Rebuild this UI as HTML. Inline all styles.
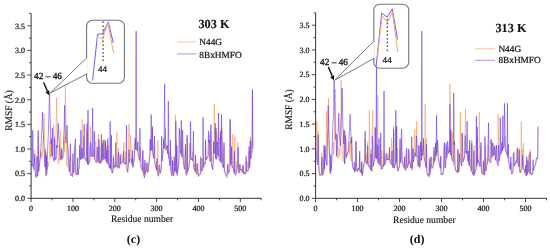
<!DOCTYPE html>
<html><head><meta charset="utf-8"><title>RMSF</title>
<style>
html,body{margin:0;padding:0;background:#fff;width:550px;height:248px;overflow:hidden}
svg{display:block}
text{font-family:"Liberation Serif","Times New Roman",serif;fill:#111;stroke:#111;stroke-width:0.22px;text-rendering:geometricPrecision}
.tk{font-size:8px}
.ttl{font-size:12.3px;font-weight:bold;stroke-width:0.1px}
.lg{font-size:9.3px}
.an{font-size:9.3px;stroke-width:0.3px}
.ax{font-size:10px;stroke-width:0.12px}
.pl{font-size:12px;font-weight:bold;stroke-width:0px}
.n44{font-family:"Liberation Sans",Arial,sans-serif;font-size:8.3px;stroke-width:0.2px}
</style></head><body>
<svg width="550" height="248" viewBox="0 0 550 248">
<rect width="550" height="248" fill="#fff"/>
<polyline points="31.52,163.65 31.94,165.27 32.36,164.35 32.77,164.84 33.19,167.41 33.61,165.89 34.03,150.37 34.45,162.13 34.87,158.28 35.28,173.10 35.70,175.82 36.12,174.92 36.54,175.75 36.96,177.32 37.38,174.91 37.79,175.39 38.21,136.28 38.63,171.95 39.05,166.99 39.47,164.97 39.89,160.27 40.30,150.52 40.72,158.51 41.14,151.86 41.56,156.24 41.98,155.82 42.40,156.84 42.82,140.06 43.23,140.26 43.65,140.57 44.07,114.00 44.49,133.24 44.91,149.75 45.33,167.17 45.74,156.30 46.16,174.87 46.58,152.51 47.00,173.88 47.42,173.24 47.84,161.62 48.25,166.43 48.67,164.04 49.09,161.87 49.51,160.00 49.93,141.54 50.35,157.62 50.76,136.98 51.18,156.45 51.60,139.77 52.02,155.58 52.44,155.78 52.86,155.23 53.28,142.12 53.69,124.84 54.11,140.88 54.53,135.75 54.95,159.84 55.37,157.37 55.79,140.41 56.20,124.52 56.62,97.73 57.04,117.91 57.46,140.48 57.88,155.71 58.30,163.28 58.71,164.25 59.13,145.62 59.55,153.83 59.97,160.35 60.39,130.27 60.81,159.30 61.22,158.80 61.64,150.68 62.06,159.98 62.48,156.95 62.90,158.54 63.32,157.01 63.74,156.24 64.15,136.43 64.57,152.23 64.99,118.14 65.41,86.39 65.83,117.70 66.25,140.61 66.66,163.31 67.08,166.42 67.50,140.40 67.92,153.57 68.34,168.56 68.76,170.75 69.17,170.94 69.59,171.90 70.01,157.95 70.43,174.59 70.85,173.87 71.27,174.13 71.68,173.50 72.10,174.94 72.52,174.83 72.94,160.92 73.36,171.41 73.78,171.99 74.20,149.11 74.61,147.84 75.03,145.52 75.45,171.04 75.87,173.86 76.29,174.52 76.71,174.49 77.12,174.01 77.54,167.07 77.96,175.55 78.38,173.31 78.80,170.43 79.22,164.61 79.63,150.10 80.05,159.43 80.47,159.54 80.89,159.36 81.31,159.30 81.73,158.09 82.14,119.42 82.56,156.59 82.98,158.35 83.40,157.15 83.82,136.39 84.24,156.58 84.66,156.78 85.07,157.65 85.49,159.71 85.91,160.36 86.33,162.46 86.75,136.22 87.17,130.51 87.58,164.93 88.00,162.83 88.42,162.26 88.84,161.30 89.26,162.17 89.68,146.75 90.09,156.84 90.51,126.82 90.93,142.98 91.35,157.09 91.77,155.87 92.19,155.31 92.60,156.34 93.02,156.28 93.44,149.84 93.86,150.72 94.28,152.07 94.70,159.89 95.12,158.05 95.53,141.39 95.95,141.10 96.37,162.34 96.79,162.55 97.21,149.83 97.63,153.07 98.04,162.40 98.46,134.21 98.88,142.60 99.30,163.52 99.72,146.93 100.14,162.67 100.55,163.75 100.97,160.52 101.39,160.54 101.81,161.73 102.23,140.05 102.65,158.17 103.06,158.18 103.48,159.27 103.90,140.93 104.32,156.90 104.74,157.09 105.16,159.26 105.58,142.17 105.99,160.51 106.41,162.47 106.83,145.97 107.25,161.98 107.67,163.30 108.09,145.77 108.50,156.29 108.92,167.11 109.34,164.69 109.76,167.40 110.18,167.29 110.60,168.43 111.01,168.58 111.43,136.96 111.85,171.19 112.27,173.14 112.69,172.34 113.11,171.82 113.52,154.84 113.94,167.49 114.36,167.96 114.78,167.55 115.20,164.27 115.62,163.30 116.04,166.15 116.45,165.29 116.87,132.24 117.29,165.88 117.71,167.11 118.13,153.34 118.55,148.33 118.96,168.73 119.38,165.54 119.80,164.23 120.22,156.88 120.64,164.60 121.06,163.20 121.47,163.08 121.89,153.84 122.31,159.86 122.73,161.91 123.15,162.21 123.57,148.60 123.98,142.10 124.40,163.61 124.82,163.49 125.24,163.76 125.66,163.33 126.08,152.07 126.50,165.61 126.91,169.84 127.33,171.83 127.75,170.08 128.17,167.19 128.59,161.00 129.01,124.35 129.42,160.54 129.84,159.91 130.26,158.71 130.68,135.20 131.10,159.10 131.52,160.50 131.93,162.19 132.35,155.22 132.77,166.07 133.19,157.47 133.61,162.16 134.03,160.94 134.44,154.53 134.86,142.77 135.28,140.25 135.70,149.26 136.12,148.05 136.54,150.49 136.96,149.00 137.37,148.13 137.79,140.97 138.21,154.49 138.63,156.97 139.05,158.92 139.47,161.60 139.88,160.90 140.30,147.71 140.72,164.38 141.14,168.21 141.56,169.32 141.98,169.80 142.39,172.52 142.81,151.57 143.23,167.54 143.65,173.22 144.07,165.40 144.49,175.81 144.90,163.25 145.32,175.26 145.74,173.06 146.16,170.74 146.58,169.86 147.00,163.53 147.42,171.64 147.83,172.87 148.25,172.16 148.67,166.79 149.09,162.82 149.51,157.79 149.93,139.14 150.34,140.72 150.76,149.91 151.18,150.09 151.60,147.36 152.02,149.56 152.44,125.69 152.85,152.02 153.27,156.25 153.69,157.19 154.11,145.39 154.53,162.30 154.95,163.50 155.36,165.19 155.78,167.70 156.20,168.72 156.62,161.77 157.04,169.46 157.46,171.23 157.88,140.13 158.29,174.37 158.71,174.61 159.13,167.88 159.55,168.74 159.97,173.55 160.39,173.18 160.80,171.78 161.22,168.13 161.64,163.36 162.06,160.64 162.48,155.05 162.90,153.41 163.31,149.38 163.73,142.19 164.15,148.94 164.57,147.76 164.99,131.75 165.41,127.58 165.82,148.17 166.24,148.71 166.66,148.06 167.08,145.25 167.50,150.65 167.92,154.02 168.34,150.53 168.75,158.55 169.17,152.82 169.59,161.74 170.01,166.02 170.43,150.08 170.85,169.20 171.26,171.13 171.68,155.97 172.10,173.95 172.52,160.11 172.94,175.58 173.36,176.21 173.77,174.73 174.19,161.26 174.61,172.94 175.03,170.22 175.45,114.98 175.87,170.90 176.28,140.41 176.70,146.39 177.12,146.13 177.54,173.15 177.96,167.94 178.38,166.55 178.80,163.61 179.21,158.19 179.63,130.06 180.05,141.69 180.47,154.79 180.89,152.05 181.31,152.68 181.72,141.69 182.14,157.95 182.56,147.67 182.98,154.13 183.40,162.09 183.82,164.33 184.23,167.14 184.65,169.24 185.07,163.21 185.49,149.25 185.91,172.28 186.33,174.57 186.74,173.43 187.16,138.71 187.58,172.81 188.00,168.98 188.42,169.80 188.84,165.17 189.26,162.38 189.67,142.80 190.09,159.61 190.51,143.04 190.93,157.97 191.35,159.63 191.77,158.84 192.18,161.09 192.60,160.77 193.02,151.65 193.44,164.40 193.86,165.79 194.28,169.90 194.69,164.45 195.11,169.68 195.53,155.82 195.95,171.53 196.37,173.57 196.79,174.80 197.20,164.57 197.62,163.79 198.04,173.56 198.46,176.34 198.88,174.33 199.30,173.73 199.72,173.13 200.13,172.88 200.55,156.08 200.97,165.17 201.39,171.66 201.81,170.82 202.23,168.01 202.64,166.92 203.06,158.46 203.48,168.35 203.90,165.65 204.32,163.74 204.74,162.55 205.15,163.70 205.57,141.26 205.99,159.60 206.41,158.05 206.83,157.07 207.25,156.81 207.66,156.65 208.08,155.96 208.50,154.16 208.92,139.83 209.34,143.59 209.76,134.55 210.18,161.07 210.59,151.76 211.01,131.54 211.43,153.99 211.85,167.43 212.27,168.30 212.69,169.64 213.10,161.57 213.52,140.79 213.94,152.76 214.36,104.14 214.78,152.44 215.20,154.78 215.61,157.60 216.03,159.76 216.45,147.03 216.87,132.24 217.29,138.89 217.71,148.69 218.12,153.64 218.54,155.09 218.96,157.00 219.38,137.88 219.80,158.54 220.22,160.61 220.64,134.27 221.05,163.25 221.47,163.15 221.89,127.65 222.31,149.68 222.73,164.65 223.15,167.86 223.56,168.10 223.98,146.51 224.40,168.91 224.82,170.87 225.24,174.29 225.66,175.87 226.07,176.78 226.49,177.22 226.91,177.97 227.33,171.58 227.75,165.65 228.17,172.70 228.58,170.98 229.00,170.36 229.42,147.55 229.84,119.42 230.26,144.67 230.68,164.64 231.10,161.92 231.51,145.43 231.93,165.61 232.35,167.33 232.77,134.21 233.19,166.89 233.61,169.41 234.02,172.63 234.44,148.43 234.86,136.18 235.28,175.11 235.70,174.22 236.12,161.13 236.53,172.15 236.95,170.26 237.37,159.75 237.79,142.10 238.21,150.01 238.63,170.35 239.04,173.21 239.46,170.87 239.88,164.83 240.30,171.12 240.72,170.33 241.14,169.36 241.56,169.75 241.97,169.78 242.39,172.65 242.81,166.12 243.23,167.05 243.65,173.59 244.07,171.48 244.48,174.51 244.90,174.14 245.32,172.51 245.74,173.31 246.16,161.21 246.58,171.40 246.99,170.82 247.41,162.07 247.83,169.13 248.25,169.19 248.67,157.11 249.09,151.13 249.50,167.46 249.92,164.08 250.34,136.74 250.76,158.57 251.18,141.05 251.60,152.52 252.02,150.16 252.43,89.84 252.85,148.88" fill="none" stroke="#f39a58" stroke-width="0.58" stroke-linejoin="miter" stroke-miterlimit="30"/>
<polyline points="31.52,163.77 31.94,165.83 32.36,165.03 32.77,130.27 33.19,167.01 33.61,168.62 34.03,169.61 34.45,161.07 34.87,154.28 35.28,174.74 35.70,176.35 36.12,177.45 36.54,175.77 36.96,156.24 37.38,175.93 37.79,175.59 38.21,130.39 38.63,171.33 39.05,167.86 39.47,164.75 39.89,159.66 40.30,157.97 40.72,153.16 41.14,142.89 41.56,134.87 41.98,128.36 42.40,112.03 42.82,124.93 43.23,132.76 43.65,140.90 44.07,151.25 44.49,159.24 44.91,166.82 45.33,149.53 45.74,172.14 46.16,176.08 46.58,155.56 47.00,169.52 47.42,156.44 47.84,145.21 48.25,136.40 48.67,121.88 49.09,108.87 49.51,93.29 49.93,113.24 50.35,121.31 50.76,141.27 51.18,143.86 51.60,139.15 52.02,156.35 52.44,128.29 52.86,157.64 53.28,159.01 53.69,158.72 54.11,161.51 54.53,138.38 54.95,160.11 55.37,158.03 55.79,159.00 56.20,159.02 56.62,145.08 57.04,147.91 57.46,138.03 57.88,131.47 58.30,123.36 58.71,136.88 59.13,141.30 59.55,148.23 59.97,153.21 60.39,159.61 60.81,160.23 61.22,159.24 61.64,148.64 62.06,158.13 62.48,157.88 62.90,155.15 63.32,145.93 63.74,135.23 64.15,128.73 64.57,105.12 64.99,122.91 65.41,136.21 65.83,143.19 66.25,140.24 66.66,136.72 67.08,125.34 67.50,143.38 67.92,148.79 68.34,152.76 68.76,163.92 69.17,170.08 69.59,171.84 70.01,158.18 70.43,143.58 70.85,175.64 71.27,174.78 71.68,175.48 72.10,175.24 72.52,176.66 72.94,153.70 73.36,173.27 73.78,172.86 74.20,172.48 74.61,149.72 75.03,145.20 75.45,138.65 75.87,174.44 76.29,174.37 76.71,174.88 77.12,174.23 77.54,157.76 77.96,174.53 78.38,172.61 78.80,168.82 79.22,166.10 79.63,144.92 80.05,160.23 80.47,159.33 80.89,130.27 81.31,158.52 81.73,158.94 82.14,147.88 82.56,158.43 82.98,157.55 83.40,157.95 83.82,136.18 84.24,124.35 84.66,157.84 85.07,158.08 85.49,158.97 85.91,160.17 86.33,160.90 86.75,133.01 87.17,123.55 87.58,164.10 88.00,110.05 88.42,164.84 88.84,163.67 89.26,161.96 89.68,160.89 90.09,157.82 90.51,142.37 90.93,144.73 91.35,156.28 91.77,156.25 92.19,154.03 92.60,108.08 93.02,156.72 93.44,155.55 93.86,156.46 94.28,131.25 94.70,159.09 95.12,159.39 95.53,162.01 95.95,162.25 96.37,162.76 96.79,162.56 97.21,146.72 97.63,149.05 98.04,161.94 98.46,161.63 98.88,139.11 99.30,162.96 99.72,162.14 100.14,163.19 100.55,161.57 100.97,162.30 101.39,134.21 101.81,161.44 102.23,143.28 102.65,159.19 103.06,160.14 103.48,158.08 103.90,139.62 104.32,159.05 104.74,159.28 105.16,158.81 105.58,140.62 105.99,160.86 106.41,161.60 106.83,149.88 107.25,163.76 107.67,138.65 108.09,142.65 108.50,164.93 108.92,165.22 109.34,166.77 109.76,167.95 110.18,121.39 110.60,169.35 111.01,144.54 111.43,135.10 111.85,171.57 112.27,173.27 112.69,170.76 113.11,169.52 113.52,157.77 113.94,167.33 114.36,167.37 114.78,165.85 115.20,167.17 115.62,142.66 116.04,166.30 116.45,165.73 116.87,165.55 117.29,168.10 117.71,168.07 118.13,157.37 118.55,152.21 118.96,167.48 119.38,167.43 119.80,166.99 120.22,154.41 120.64,163.57 121.06,162.71 121.47,162.44 121.89,162.72 122.31,162.18 122.73,162.41 123.15,162.28 123.57,151.23 123.98,163.42 124.40,162.68 124.82,163.95 125.24,163.30 125.66,164.47 126.08,155.09 126.50,125.34 126.91,168.85 127.33,169.92 127.75,172.28 128.17,167.30 128.59,157.68 129.01,149.75 129.42,162.65 129.84,161.31 130.26,159.99 130.68,159.38 131.10,159.13 131.52,160.53 131.93,164.25 132.35,150.21 132.77,167.54 133.19,167.14 133.61,163.27 134.03,160.72 134.44,157.15 134.86,141.52 135.28,137.66 135.70,149.59 136.12,31.17 136.54,148.33 136.96,149.05 137.37,150.60 137.79,142.27 138.21,154.63 138.63,157.29 139.05,158.15 139.47,160.15 139.88,128.29 140.30,150.26 140.72,157.15 141.14,167.42 141.56,168.59 141.98,169.99 142.39,170.48 142.81,150.07 143.23,165.23 143.65,175.80 144.07,175.95 144.49,178.06 144.90,159.85 145.32,173.19 145.74,171.66 146.16,171.06 146.58,171.15 147.00,162.46 147.42,171.46 147.83,171.99 148.25,171.14 148.67,165.89 149.09,161.88 149.51,158.91 149.93,155.30 150.34,139.51 150.76,150.81 151.18,114.49 151.60,148.64 152.02,150.51 152.44,127.31 152.85,153.00 153.27,155.38 153.69,158.54 154.11,147.81 154.53,136.18 154.95,162.86 155.36,165.01 155.78,166.45 156.20,167.43 156.62,170.30 157.04,158.49 157.46,172.22 157.88,176.10 158.29,175.96 158.71,176.00 159.13,165.85 159.55,164.70 159.97,172.61 160.39,172.98 160.80,171.21 161.22,170.29 161.64,136.18 162.06,161.10 162.48,158.24 162.90,151.84 163.31,148.23 163.73,138.38 164.15,148.15 164.57,83.92 164.99,128.48 165.41,131.95 165.82,150.20 166.24,149.73 166.66,149.28 167.08,145.49 167.50,152.59 167.92,154.02 168.34,101.18 168.75,158.55 169.17,159.41 169.59,162.68 170.01,165.51 170.43,140.13 170.85,171.36 171.26,173.15 171.68,175.36 172.10,174.36 172.52,160.66 172.94,175.89 173.36,176.03 173.77,173.85 174.19,156.63 174.61,171.57 175.03,169.41 175.45,169.84 175.87,121.39 176.28,173.15 176.70,145.59 177.12,175.55 177.54,171.16 177.96,169.98 178.38,166.14 178.80,161.47 179.21,128.29 179.63,131.49 180.05,144.50 180.47,152.81 180.89,152.64 181.31,120.41 181.72,155.72 182.14,156.76 182.56,130.27 182.98,150.29 183.40,163.52 183.82,165.21 184.23,168.29 184.65,169.21 185.07,153.37 185.49,144.16 185.91,172.28 186.33,175.48 186.74,175.19 187.16,135.05 187.58,171.77 188.00,169.79 188.42,168.86 188.84,167.93 189.26,164.52 189.67,160.69 190.09,159.81 190.51,121.39 190.93,156.79 191.35,159.63 191.77,159.69 192.18,159.10 192.60,160.56 193.02,151.20 193.44,131.25 193.86,167.40 194.28,168.67 194.69,169.21 195.11,171.58 195.53,154.86 195.95,172.67 196.37,173.76 196.79,173.36 197.20,163.80 197.62,163.67 198.04,174.70 198.46,176.39 198.88,175.40 199.30,174.33 199.72,174.79 200.13,174.92 200.55,174.37 200.97,157.86 201.39,170.68 201.81,170.07 202.23,170.91 202.64,169.48 203.06,117.45 203.48,167.06 203.90,166.54 204.32,164.37 204.74,163.42 205.15,164.00 205.57,139.69 205.99,160.21 206.41,158.93 206.83,157.69 207.25,157.23 207.66,158.05 208.08,156.61 208.50,131.25 208.92,142.15 209.34,140.17 209.76,157.98 210.18,161.49 210.59,135.20 211.01,124.58 211.43,165.90 211.85,165.44 212.27,167.39 212.69,169.55 213.10,163.15 213.52,141.95 213.94,152.11 214.36,153.51 214.78,153.52 215.20,123.36 215.61,158.44 216.03,127.92 216.45,158.92 216.87,157.40 217.29,141.93 217.71,150.35 218.12,155.67 218.54,113.01 218.96,158.41 219.38,158.70 219.80,160.86 220.22,161.06 220.64,130.85 221.05,162.72 221.47,114.49 221.89,134.75 222.31,150.44 222.73,166.90 223.15,165.87 223.56,167.48 223.98,142.43 224.40,171.34 224.82,172.35 225.24,173.42 225.66,174.56 226.07,174.81 226.49,175.72 226.91,176.30 227.33,168.99 227.75,164.26 228.17,173.51 228.58,172.46 229.00,172.30 229.42,169.58 229.84,168.20 230.26,119.42 230.68,165.20 231.10,161.94 231.51,147.60 231.93,165.45 232.35,167.35 232.77,166.70 233.19,167.95 233.61,169.30 234.02,172.59 234.44,150.97 234.86,173.85 235.28,174.85 235.70,175.25 236.12,172.90 236.53,172.42 236.95,169.03 237.37,168.48 237.79,157.88 238.21,147.18 238.63,172.08 239.04,173.05 239.46,172.14 239.88,164.10 240.30,169.68 240.72,170.04 241.14,169.20 241.56,168.70 241.97,171.53 242.39,172.43 242.81,165.05 243.23,164.95 243.65,173.79 244.07,173.77 244.48,172.46 244.90,172.20 245.32,173.67 245.74,173.48 246.16,156.21 246.58,170.63 246.99,171.25 247.41,170.33 247.83,171.43 248.25,169.62 248.67,169.98 249.09,146.39 249.50,167.75 249.92,163.87 250.34,140.53 250.76,158.80 251.18,155.72 251.60,154.91 252.02,152.17 252.43,89.35 252.85,148.75" fill="none" stroke="#6236ef" stroke-width="0.58" stroke-linejoin="miter" stroke-miterlimit="30"/>
<line x1="31.10" y1="198.30" x2="261.22" y2="198.30" stroke="#333" stroke-width="1"/>
<line x1="31.10" y1="198.80" x2="31.10" y2="13.43" stroke="#333" stroke-width="1"/>
<line x1="31.10" y1="198.30" x2="31.10" y2="202.10" stroke="#333" stroke-width="0.9"/>
<text x="31.10" y="211.20" class="tk" text-anchor="middle">0</text>
<line x1="52.02" y1="198.30" x2="52.02" y2="200.30" stroke="#333" stroke-width="0.9"/>
<line x1="72.94" y1="198.30" x2="72.94" y2="202.10" stroke="#333" stroke-width="0.9"/>
<text x="72.94" y="211.20" class="tk" text-anchor="middle">100</text>
<line x1="93.86" y1="198.30" x2="93.86" y2="200.30" stroke="#333" stroke-width="0.9"/>
<line x1="114.78" y1="198.30" x2="114.78" y2="202.10" stroke="#333" stroke-width="0.9"/>
<text x="114.78" y="211.20" class="tk" text-anchor="middle">200</text>
<line x1="135.70" y1="198.30" x2="135.70" y2="200.30" stroke="#333" stroke-width="0.9"/>
<line x1="156.62" y1="198.30" x2="156.62" y2="202.10" stroke="#333" stroke-width="0.9"/>
<text x="156.62" y="211.20" class="tk" text-anchor="middle">300</text>
<line x1="177.54" y1="198.30" x2="177.54" y2="200.30" stroke="#333" stroke-width="0.9"/>
<line x1="198.46" y1="198.30" x2="198.46" y2="202.10" stroke="#333" stroke-width="0.9"/>
<text x="198.46" y="211.20" class="tk" text-anchor="middle">400</text>
<line x1="219.38" y1="198.30" x2="219.38" y2="200.30" stroke="#333" stroke-width="0.9"/>
<line x1="240.30" y1="198.30" x2="240.30" y2="202.10" stroke="#333" stroke-width="0.9"/>
<text x="240.30" y="211.20" class="tk" text-anchor="middle">500</text>
<line x1="261.22" y1="198.30" x2="261.22" y2="200.30" stroke="#333" stroke-width="0.9"/>
<line x1="27.30" y1="198.30" x2="31.10" y2="198.30" stroke="#333" stroke-width="0.9"/>
<text x="25.00" y="201.10" class="tk" text-anchor="end">0.0</text>
<line x1="29.10" y1="185.98" x2="31.10" y2="185.98" stroke="#333" stroke-width="0.9"/>
<line x1="27.30" y1="173.65" x2="31.10" y2="173.65" stroke="#333" stroke-width="0.9"/>
<text x="25.00" y="176.45" class="tk" text-anchor="end">0.5</text>
<line x1="29.10" y1="161.33" x2="31.10" y2="161.33" stroke="#333" stroke-width="0.9"/>
<line x1="27.30" y1="149.00" x2="31.10" y2="149.00" stroke="#333" stroke-width="0.9"/>
<text x="25.00" y="151.80" class="tk" text-anchor="end">1.0</text>
<line x1="29.10" y1="136.68" x2="31.10" y2="136.68" stroke="#333" stroke-width="0.9"/>
<line x1="27.30" y1="124.35" x2="31.10" y2="124.35" stroke="#333" stroke-width="0.9"/>
<text x="25.00" y="127.15" class="tk" text-anchor="end">1.5</text>
<line x1="29.10" y1="112.03" x2="31.10" y2="112.03" stroke="#333" stroke-width="0.9"/>
<line x1="27.30" y1="99.70" x2="31.10" y2="99.70" stroke="#333" stroke-width="0.9"/>
<text x="25.00" y="102.50" class="tk" text-anchor="end">2.0</text>
<line x1="29.10" y1="87.38" x2="31.10" y2="87.38" stroke="#333" stroke-width="0.9"/>
<line x1="27.30" y1="75.05" x2="31.10" y2="75.05" stroke="#333" stroke-width="0.9"/>
<text x="25.00" y="77.85" class="tk" text-anchor="end">2.5</text>
<line x1="29.10" y1="62.73" x2="31.10" y2="62.73" stroke="#333" stroke-width="0.9"/>
<line x1="27.30" y1="50.40" x2="31.10" y2="50.40" stroke="#333" stroke-width="0.9"/>
<text x="25.00" y="53.20" class="tk" text-anchor="end">3.0</text>
<line x1="29.10" y1="38.08" x2="31.10" y2="38.08" stroke="#333" stroke-width="0.9"/>
<line x1="27.30" y1="25.75" x2="31.10" y2="25.75" stroke="#333" stroke-width="0.9"/>
<text x="25.00" y="28.55" class="tk" text-anchor="end">3.5</text>
<line x1="29.10" y1="13.43" x2="31.10" y2="13.43" stroke="#333" stroke-width="0.9"/>
<polyline points="316.02,149.32 316.44,149.55 316.86,121.16 317.28,145.35 317.70,162.59 318.12,131.17 318.54,154.96 318.96,169.17 319.38,170.22 319.80,172.74 320.22,173.90 320.64,174.44 321.06,174.16 321.48,173.15 321.90,152.70 322.32,173.46 322.74,174.98 323.16,159.77 323.58,172.91 324.00,172.17 324.42,168.94 324.84,149.58 325.26,157.73 325.68,158.99 326.10,146.28 326.51,111.27 326.93,144.38 327.35,165.81 327.77,151.11 328.19,132.39 328.61,98.41 329.03,132.33 329.45,152.10 329.87,170.57 330.29,172.93 330.71,163.52 331.13,168.45 331.55,167.30 331.97,162.58 332.39,160.18 332.81,157.89 333.23,142.02 333.65,154.66 334.07,151.69 334.49,142.62 334.91,116.03 335.33,89.02 335.75,122.46 336.17,137.68 336.59,149.27 337.01,157.34 337.43,137.60 337.85,158.68 338.27,158.35 338.69,155.94 339.11,147.56 339.53,155.52 339.95,154.81 340.37,133.97 340.79,119.72 341.21,80.11 341.63,115.11 342.05,136.29 342.47,158.94 342.89,161.38 343.31,161.65 343.73,150.27 344.15,129.43 344.57,163.66 344.99,131.05 345.41,138.75 345.83,137.90 346.25,156.55 346.67,155.74 347.09,154.08 347.50,154.38 347.92,151.34 348.34,150.95 348.76,148.54 349.18,142.53 349.60,153.05 350.02,154.64 350.44,139.68 350.86,158.52 351.28,161.02 351.70,138.11 352.12,164.22 352.54,165.17 352.96,167.49 353.38,168.78 353.80,169.39 354.22,167.95 354.64,172.34 355.06,169.78 355.48,169.46 355.90,141.27 356.32,156.12 356.74,171.84 357.16,171.40 357.58,170.29 358.00,167.84 358.42,170.21 358.84,167.94 359.26,168.79 359.68,154.86 360.10,171.74 360.52,169.99 360.94,171.05 361.36,173.13 361.78,161.35 362.20,175.17 362.62,172.99 363.04,170.54 363.46,165.17 363.88,165.34 364.30,164.19 364.72,161.31 365.14,139.27 365.56,160.00 365.98,160.41 366.40,161.69 366.82,153.47 367.24,163.05 367.66,141.46 368.08,165.72 368.49,165.50 368.91,167.06 369.33,110.28 369.75,166.05 370.17,166.60 370.59,168.75 371.01,149.28 371.43,171.03 371.85,169.87 372.27,131.50 372.69,110.28 373.11,166.44 373.53,161.73 373.95,160.00 374.37,160.95 374.79,158.36 375.21,128.65 375.63,156.06 376.05,157.82 376.47,157.52 376.89,157.51 377.31,143.99 377.73,95.44 378.15,163.02 378.57,147.49 378.99,161.54 379.41,165.46 379.83,163.86 380.25,164.85 380.67,143.86 381.09,167.03 381.51,167.26 381.93,149.96 382.35,167.36 382.77,164.89 383.19,165.22 383.61,164.85 384.03,152.95 384.45,165.13 384.87,158.28 385.29,162.14 385.71,161.40 386.13,155.63 386.55,155.55 386.97,160.03 387.39,158.48 387.81,154.13 388.23,158.91 388.65,159.42 389.07,154.96 389.48,149.39 389.90,162.32 390.32,162.94 390.74,163.47 391.16,161.96 391.58,137.97 392.00,147.53 392.42,165.85 392.84,167.83 393.26,147.99 393.68,125.19 394.10,167.63 394.52,165.52 394.94,164.74 395.36,163.83 395.78,160.50 396.20,162.04 396.62,128.58 397.04,167.07 397.46,148.35 397.88,171.10 398.30,169.08 398.72,168.90 399.14,165.91 399.56,165.94 399.98,148.60 400.40,161.99 400.82,161.87 401.24,139.65 401.66,145.59 402.08,159.83 402.50,162.66 402.92,161.83 403.34,163.41 403.76,165.49 404.18,165.86 404.60,156.25 405.02,167.84 405.44,170.77 405.86,168.60 406.28,154.09 406.70,158.87 407.12,168.06 407.54,165.62 407.96,163.69 408.38,165.31 408.80,151.22 409.22,163.79 409.64,161.12 410.06,161.87 410.47,164.92 410.89,167.47 411.31,159.72 411.73,171.22 412.15,166.92 412.57,163.99 412.99,147.23 413.41,160.85 413.83,156.75 414.25,156.84 414.67,130.06 415.09,151.19 415.51,155.05 415.93,153.83 416.35,140.20 416.77,121.16 417.19,157.85 417.61,161.44 418.03,164.08 418.45,167.10 418.87,145.78 419.29,155.07 419.71,168.66 420.13,164.42 420.55,143.35 420.97,144.94 421.39,160.05 421.81,146.76 422.23,155.53 422.65,153.54 423.07,151.92 423.49,140.82 423.91,154.31 424.33,159.46 424.75,160.40 425.17,104.35 425.59,166.49 426.01,167.76 426.43,137.97 426.85,169.58 427.27,171.67 427.69,174.83 428.11,173.57 428.53,175.46 428.95,177.23 429.37,175.84 429.79,165.16 430.21,171.19 430.63,163.01 431.05,156.69 431.46,166.82 431.88,166.10 432.30,167.33 432.72,167.90 433.14,157.67 433.56,164.33 433.98,151.24 434.40,162.17 434.82,160.85 435.24,159.00 435.66,143.23 436.08,155.74 436.50,151.63 436.92,153.20 437.34,140.60 437.76,144.02 438.18,156.64 438.60,158.52 439.02,162.35 439.44,163.28 439.86,165.56 440.28,167.88 440.70,155.71 441.12,171.90 441.54,173.06 441.96,173.66 442.38,172.86 442.80,173.85 443.22,171.11 443.64,171.03 444.06,151.93 444.48,144.20 444.90,166.02 445.32,167.72 445.74,163.71 446.16,147.52 446.58,150.38 447.00,155.29 447.42,146.48 447.84,146.41 448.26,153.52 448.68,150.40 449.10,148.10 449.52,151.58 449.94,84.07 450.36,152.89 450.78,130.10 451.20,146.19 451.62,158.98 452.04,158.04 452.45,132.38 452.87,160.31 453.29,161.71 453.71,165.13 454.13,143.02 454.55,142.52 454.97,166.86 455.39,169.27 455.81,171.01 456.23,170.06 456.65,172.46 457.07,171.04 457.49,173.01 457.91,151.67 458.33,172.80 458.75,170.90 459.17,170.22 459.59,153.95 460.01,160.30 460.43,112.26 460.85,161.42 461.27,163.65 461.69,166.11 462.11,134.53 462.53,152.43 462.95,161.14 463.37,161.69 463.79,157.64 464.21,159.18 464.63,155.23 465.05,137.60 465.47,109.29 465.89,150.71 466.31,152.99 466.73,154.50 467.15,157.03 467.57,156.95 467.99,160.87 468.41,155.06 468.83,163.24 469.25,164.82 469.67,145.64 470.09,166.40 470.51,166.98 470.93,167.87 471.35,168.53 471.77,139.79 472.19,173.16 472.61,172.44 473.03,174.10 473.44,175.25 473.86,148.45 474.28,145.36 474.70,173.02 475.12,172.70 475.54,169.26 475.96,168.77 476.38,168.52 476.80,164.12 477.22,135.35 477.64,161.11 478.06,159.86 478.48,161.21 478.90,152.66 479.32,112.26 479.74,166.30 480.16,165.95 480.58,153.93 481.00,146.57 481.42,170.06 481.84,172.84 482.26,172.92 482.68,172.84 483.10,162.66 483.52,161.20 483.94,173.24 484.36,173.53 484.78,174.46 485.20,145.88 485.62,171.82 486.04,169.77 486.46,167.56 486.88,158.59 487.30,164.10 487.72,159.59 488.14,145.64 488.56,160.25 488.98,159.05 489.40,161.71 489.82,162.39 490.24,160.73 490.66,160.47 491.08,139.19 491.50,150.92 491.92,158.34 492.34,142.11 492.76,144.63 493.18,148.18 493.60,154.36 494.01,155.08 494.43,146.24 494.85,150.08 495.27,158.62 495.69,160.28 496.11,146.62 496.53,147.63 496.95,160.42 497.37,161.98 497.79,162.60 498.21,114.24 498.63,145.89 499.05,150.20 499.47,157.20 499.89,157.08 500.31,154.48 500.73,152.67 501.15,151.19 501.57,152.36 501.99,141.03 502.41,149.93 502.83,148.83 503.25,148.00 503.67,147.80 504.09,148.21 504.51,146.47 504.93,136.44 505.35,147.89 505.77,151.11 506.19,152.01 506.61,152.39 507.03,152.83 507.45,156.05 507.87,158.61 508.29,158.51 508.71,159.93 509.13,162.33 509.55,164.33 509.97,168.12 510.39,170.02 510.81,169.33 511.23,162.19 511.65,171.20 512.07,173.86 512.49,172.94 512.91,171.61 513.33,167.52 513.75,151.51 514.17,166.73 514.59,163.72 515.00,164.16 515.42,162.68 515.84,161.01 516.26,161.60 516.68,161.86 517.10,149.81 517.52,147.12 517.94,162.26 518.36,165.12 518.78,164.78 519.20,148.16 519.62,169.99 520.04,171.32 520.46,173.02 520.88,170.80 521.30,121.65 521.72,167.75 522.14,155.58 522.56,149.46 522.98,168.99 523.40,143.14 523.82,168.81 524.24,169.09 524.66,172.36 525.08,172.75 525.50,168.04 525.92,174.56 526.34,175.09 526.76,160.43 527.18,172.48 527.60,172.14 528.02,167.79 528.44,154.45 528.86,171.55 529.28,170.19 529.70,170.75 530.12,149.49 530.54,173.31 530.96,173.19 531.38,174.82 531.80,173.19 532.22,173.14 532.64,174.38 533.06,171.97 533.48,169.13 533.90,169.71 534.32,164.99 534.74,165.45 535.16,165.13 535.58,164.91 536.00,161.21 536.41,158.70 536.83,158.44 537.25,159.46 537.67,157.90 538.09,126.60" fill="none" stroke="#f39a58" stroke-width="0.58" stroke-linejoin="miter" stroke-miterlimit="30"/>
<polyline points="316.02,149.77 316.44,153.92 316.86,160.00 317.28,163.03 317.70,164.97 318.12,134.78 318.54,156.17 318.96,169.53 319.38,172.92 319.80,175.59 320.22,175.35 320.64,175.93 321.06,175.05 321.48,172.46 321.90,157.09 322.32,174.36 322.74,175.57 323.16,174.09 323.58,172.55 324.00,145.39 324.42,169.04 324.84,146.48 325.26,146.28 325.68,160.92 326.10,162.10 326.51,164.84 326.93,150.05 327.35,142.46 327.77,129.60 328.19,105.33 328.61,127.59 329.03,139.82 329.45,151.02 329.87,166.05 330.29,173.71 330.71,154.61 331.13,170.89 331.55,162.96 331.97,152.73 332.39,140.61 332.81,125.70 333.23,118.84 333.65,112.02 334.07,80.11 334.49,101.63 334.91,111.39 335.33,131.87 335.75,139.49 336.17,134.06 336.59,155.66 337.01,149.10 337.43,138.50 337.85,134.37 338.27,129.05 338.69,113.25 339.11,129.01 339.53,137.57 339.95,140.06 340.37,146.27 340.79,134.32 341.21,117.66 341.63,112.45 342.05,88.03 342.47,102.05 342.89,124.92 343.31,132.17 343.73,143.79 344.15,130.66 344.57,163.97 344.99,161.52 345.41,135.53 345.83,141.69 346.25,157.96 346.67,157.38 347.09,154.39 347.50,154.89 347.92,151.71 348.34,151.71 348.76,145.13 349.18,136.30 349.60,127.38 350.02,114.24 350.44,126.51 350.86,133.14 351.28,143.50 351.70,137.00 352.12,159.95 352.54,165.60 352.96,167.28 353.38,168.25 353.80,170.05 354.22,162.03 354.64,172.04 355.06,170.44 355.48,170.52 355.90,141.40 356.32,153.85 356.74,170.52 357.16,171.31 357.58,169.42 358.00,170.08 358.42,168.44 358.84,169.84 359.26,169.61 359.68,151.09 360.10,171.85 360.52,170.54 360.94,172.04 361.36,173.28 361.78,162.12 362.20,175.72 362.62,173.83 363.04,169.39 363.46,167.16 363.88,163.99 364.30,162.43 364.72,161.54 365.14,131.05 365.56,160.29 365.98,162.51 366.40,161.39 366.82,164.13 367.24,163.32 367.66,145.99 368.08,165.11 368.49,165.76 368.91,166.96 369.33,166.57 369.75,167.59 370.17,168.86 370.59,169.72 371.01,153.66 371.43,169.47 371.85,171.33 372.27,135.95 372.69,141.07 373.11,166.25 373.53,164.41 373.95,161.99 374.37,161.11 374.79,159.81 375.21,127.22 375.63,156.67 376.05,158.10 376.47,49.95 376.89,159.40 377.31,144.57 377.73,161.65 378.15,161.32 378.57,163.18 378.99,138.53 379.41,164.64 379.83,165.20 380.25,165.08 380.67,132.89 381.09,168.61 381.51,169.31 381.93,167.49 382.35,169.03 382.77,167.52 383.19,165.05 383.61,166.55 384.03,90.99 384.45,165.03 384.87,164.92 385.29,163.55 385.71,162.83 386.13,153.17 386.55,156.20 386.97,159.86 387.39,159.04 387.81,158.82 388.23,160.28 388.65,159.71 389.07,159.91 389.48,147.10 389.90,160.27 390.32,162.28 390.74,162.83 391.16,164.65 391.58,164.37 392.00,150.74 392.42,165.58 392.84,167.55 393.26,166.53 393.68,129.34 394.10,168.34 394.52,166.68 394.94,164.10 395.36,163.92 395.78,110.28 396.20,161.95 396.62,126.15 397.04,165.80 397.46,168.92 397.88,171.05 398.30,170.37 398.72,167.52 399.14,167.74 399.56,165.52 399.98,138.95 400.40,162.89 400.82,162.02 401.24,135.64 401.66,129.07 402.08,161.24 402.50,163.81 402.92,164.03 403.34,166.39 403.76,166.42 404.18,168.28 404.60,156.95 405.02,169.63 405.44,169.71 405.86,169.99 406.28,151.13 406.70,148.13 407.12,167.49 407.54,167.60 407.96,165.41 408.38,163.45 408.80,148.78 409.22,162.83 409.64,162.95 410.06,163.75 410.47,164.68 410.89,168.01 411.31,157.18 411.73,136.98 412.15,168.80 412.57,164.81 412.99,149.10 413.41,161.75 413.83,158.72 414.25,157.14 414.67,154.39 415.09,152.53 415.51,153.47 415.93,156.66 416.35,135.89 416.77,138.24 417.19,159.62 417.61,161.39 418.03,165.59 418.45,166.21 418.87,145.45 419.29,150.31 419.71,167.27 420.13,164.95 420.55,142.83 420.97,141.49 421.39,160.25 421.81,31.16 422.23,155.69 422.65,152.92 423.07,150.71 423.49,138.20 423.91,156.96 424.33,159.05 424.75,161.18 425.17,162.52 425.59,165.30 426.01,167.52 426.43,144.28 426.85,171.40 427.27,173.90 427.69,175.20 428.11,175.07 428.53,174.84 428.95,176.34 429.37,158.45 429.79,174.84 430.21,173.28 430.63,162.58 431.05,156.87 431.46,167.58 431.88,168.68 432.30,168.09 432.72,167.16 433.14,166.06 433.56,165.00 433.98,147.11 434.40,161.37 434.82,160.51 435.24,157.64 435.66,142.95 436.08,156.31 436.50,115.22 436.92,152.49 437.34,139.92 437.76,142.08 438.18,156.78 438.60,160.36 439.02,161.17 439.44,165.43 439.86,165.62 440.28,168.26 440.70,156.49 441.12,174.95 441.54,173.87 441.96,174.45 442.38,174.91 442.80,173.57 443.22,173.77 443.64,172.26 444.06,147.09 444.48,142.36 444.90,167.44 445.32,167.69 445.74,164.37 446.16,143.24 446.58,158.02 447.00,157.72 447.42,141.18 447.84,142.29 448.26,153.20 448.68,152.70 449.10,151.13 449.52,151.96 449.94,104.35 450.36,155.06 450.78,129.89 451.20,138.40 451.62,157.30 452.04,159.62 452.45,159.40 452.87,160.69 453.29,161.87 453.71,92.97 454.13,144.81 454.55,141.28 454.97,166.60 455.39,168.29 455.81,170.90 456.23,170.17 456.65,170.50 457.07,171.24 457.49,172.41 457.91,149.13 458.33,171.05 458.75,171.72 459.17,170.32 459.59,153.60 460.01,161.90 460.43,162.54 460.85,162.29 461.27,164.63 461.69,165.98 462.11,132.77 462.53,141.98 462.95,161.93 463.37,160.47 463.79,160.14 464.21,158.58 464.63,157.46 465.05,135.60 465.47,137.13 465.89,152.89 466.31,150.95 466.73,153.79 467.15,121.16 467.57,157.70 467.99,161.53 468.41,150.87 468.83,163.15 469.25,165.52 469.67,140.11 470.09,166.34 470.51,167.61 470.93,168.78 471.35,171.26 471.77,142.77 472.19,171.21 472.61,173.75 473.03,173.37 473.44,175.19 473.86,150.83 474.28,175.31 474.70,173.44 475.12,171.82 475.54,170.12 475.96,168.30 476.38,116.21 476.80,166.66 477.22,127.04 477.64,162.57 478.06,160.32 478.48,163.01 478.90,162.39 479.32,165.13 479.74,165.69 480.16,166.79 480.58,151.01 481.00,142.18 481.42,170.83 481.84,173.05 482.26,173.56 482.68,174.39 483.10,174.73 483.52,160.82 483.94,174.95 484.36,175.12 484.78,136.63 485.20,141.04 485.62,170.88 486.04,169.97 486.46,166.84 486.88,164.71 487.30,163.86 487.72,161.08 488.14,142.32 488.56,122.64 488.98,160.31 489.40,161.38 489.82,161.67 490.24,161.71 490.66,162.77 491.08,139.94 491.50,146.19 491.92,157.30 492.34,156.49 492.76,143.22 493.18,145.03 493.60,155.05 494.01,155.73 494.43,145.88 494.85,149.59 495.27,158.57 495.69,160.20 496.11,147.67 496.53,144.91 496.95,161.86 497.37,163.55 497.79,163.56 498.21,165.82 498.63,145.46 499.05,161.19 499.47,159.09 499.89,157.51 500.31,117.70 500.73,154.11 501.15,153.50 501.57,151.54 501.99,142.75 502.41,151.06 502.83,115.72 503.25,148.06 503.67,146.48 504.09,146.09 504.51,103.36 504.93,129.23 505.35,150.15 505.77,149.91 506.19,151.89 506.61,153.65 507.03,154.86 507.45,103.36 507.87,157.59 508.29,144.43 508.71,161.56 509.13,164.39 509.55,165.76 509.97,168.68 510.39,169.43 510.81,156.90 511.23,171.68 511.65,174.10 512.07,173.98 512.49,173.39 512.91,171.48 513.33,154.27 513.75,153.20 514.17,165.79 514.59,165.87 515.00,165.23 515.42,162.69 515.84,162.65 516.26,160.16 516.68,162.48 517.10,149.03 517.52,148.53 517.94,163.75 518.36,164.68 518.78,166.81 519.20,149.91 519.62,169.09 520.04,172.65 520.46,171.54 520.88,171.87 521.30,169.51 521.72,168.59 522.14,167.67 522.56,155.27 522.98,167.57 523.40,169.73 523.82,169.99 524.24,169.42 524.66,170.46 525.08,172.87 525.50,165.26 525.92,174.89 526.34,176.05 526.76,156.75 527.18,174.82 527.60,173.19 528.02,160.60 528.44,170.25 528.86,172.21 529.28,172.40 529.70,173.74 530.12,152.15 530.54,173.52 530.96,173.05 531.38,174.84 531.80,174.19 532.22,174.56 532.64,173.79 533.06,159.51 533.48,170.54 533.90,167.99 534.32,167.69 534.74,166.89 535.16,164.92 535.58,164.43 536.00,161.94 536.41,157.88 536.83,157.84 537.25,158.06 537.67,158.40 538.09,126.60" fill="none" stroke="#6236ef" stroke-width="0.58" stroke-linejoin="miter" stroke-miterlimit="30"/>
<line x1="315.60" y1="198.30" x2="546.49" y2="198.30" stroke="#333" stroke-width="1"/>
<line x1="315.60" y1="198.80" x2="315.60" y2="12.86" stroke="#333" stroke-width="1"/>
<line x1="315.60" y1="198.30" x2="315.60" y2="202.10" stroke="#333" stroke-width="0.9"/>
<text x="315.60" y="211.20" class="tk" text-anchor="middle">0</text>
<line x1="336.59" y1="198.30" x2="336.59" y2="200.30" stroke="#333" stroke-width="0.9"/>
<line x1="357.58" y1="198.30" x2="357.58" y2="202.10" stroke="#333" stroke-width="0.9"/>
<text x="357.58" y="211.20" class="tk" text-anchor="middle">100</text>
<line x1="378.57" y1="198.30" x2="378.57" y2="200.30" stroke="#333" stroke-width="0.9"/>
<line x1="399.56" y1="198.30" x2="399.56" y2="202.10" stroke="#333" stroke-width="0.9"/>
<text x="399.56" y="211.20" class="tk" text-anchor="middle">200</text>
<line x1="420.55" y1="198.30" x2="420.55" y2="200.30" stroke="#333" stroke-width="0.9"/>
<line x1="441.54" y1="198.30" x2="441.54" y2="202.10" stroke="#333" stroke-width="0.9"/>
<text x="441.54" y="211.20" class="tk" text-anchor="middle">300</text>
<line x1="462.53" y1="198.30" x2="462.53" y2="200.30" stroke="#333" stroke-width="0.9"/>
<line x1="483.52" y1="198.30" x2="483.52" y2="202.10" stroke="#333" stroke-width="0.9"/>
<text x="483.52" y="211.20" class="tk" text-anchor="middle">400</text>
<line x1="504.51" y1="198.30" x2="504.51" y2="200.30" stroke="#333" stroke-width="0.9"/>
<line x1="525.50" y1="198.30" x2="525.50" y2="202.10" stroke="#333" stroke-width="0.9"/>
<text x="525.50" y="211.20" class="tk" text-anchor="middle">500</text>
<line x1="546.49" y1="198.30" x2="546.49" y2="200.30" stroke="#333" stroke-width="0.9"/>
<line x1="311.80" y1="198.30" x2="315.60" y2="198.30" stroke="#333" stroke-width="0.9"/>
<text x="309.50" y="201.10" class="tk" text-anchor="end">0.0</text>
<line x1="313.60" y1="185.94" x2="315.60" y2="185.94" stroke="#333" stroke-width="0.9"/>
<line x1="311.80" y1="173.58" x2="315.60" y2="173.58" stroke="#333" stroke-width="0.9"/>
<text x="309.50" y="176.38" class="tk" text-anchor="end">0.5</text>
<line x1="313.60" y1="161.21" x2="315.60" y2="161.21" stroke="#333" stroke-width="0.9"/>
<line x1="311.80" y1="148.85" x2="315.60" y2="148.85" stroke="#333" stroke-width="0.9"/>
<text x="309.50" y="151.65" class="tk" text-anchor="end">1.0</text>
<line x1="313.60" y1="136.49" x2="315.60" y2="136.49" stroke="#333" stroke-width="0.9"/>
<line x1="311.80" y1="124.12" x2="315.60" y2="124.12" stroke="#333" stroke-width="0.9"/>
<text x="309.50" y="126.92" class="tk" text-anchor="end">1.5</text>
<line x1="313.60" y1="111.76" x2="315.60" y2="111.76" stroke="#333" stroke-width="0.9"/>
<line x1="311.80" y1="99.40" x2="315.60" y2="99.40" stroke="#333" stroke-width="0.9"/>
<text x="309.50" y="102.20" class="tk" text-anchor="end">2.0</text>
<line x1="313.60" y1="87.04" x2="315.60" y2="87.04" stroke="#333" stroke-width="0.9"/>
<line x1="311.80" y1="74.68" x2="315.60" y2="74.68" stroke="#333" stroke-width="0.9"/>
<text x="309.50" y="77.48" class="tk" text-anchor="end">2.5</text>
<line x1="313.60" y1="62.31" x2="315.60" y2="62.31" stroke="#333" stroke-width="0.9"/>
<line x1="311.80" y1="49.95" x2="315.60" y2="49.95" stroke="#333" stroke-width="0.9"/>
<text x="309.50" y="52.75" class="tk" text-anchor="end">3.0</text>
<line x1="313.60" y1="37.59" x2="315.60" y2="37.59" stroke="#333" stroke-width="0.9"/>
<line x1="311.80" y1="25.22" x2="315.60" y2="25.22" stroke="#333" stroke-width="0.9"/>
<text x="309.50" y="28.02" class="tk" text-anchor="end">3.5</text>
<line x1="313.60" y1="12.86" x2="315.60" y2="12.86" stroke="#333" stroke-width="0.9"/>

<text x="214" y="28" class="ttl" text-anchor="middle">303 K</text>
<line x1="177.1" y1="42" x2="196.7" y2="42" stroke="#fbc6a6" stroke-width="1.1"/>
<text x="199.3" y="45" class="lg">N44G</text>
<line x1="177.1" y1="53.9" x2="196.7" y2="53.9" stroke="#ae9ef8" stroke-width="1.1"/>
<text x="199.3" y="57.8" class="lg">8BxHMFO</text>
<text x="48" y="79.3" class="an" text-anchor="middle">42 – 46</text>
<line x1="43.6" y1="82.4" x2="47.4" y2="91" stroke="#000" stroke-width="1.35"/>
<polygon points="49.2,95.2 45.4,92.2 49.3,90.3" fill="#000"/>
<line x1="86.6" y1="58" x2="50.2" y2="93" stroke="#777" stroke-width="1"/>
<line x1="86.6" y1="74" x2="50.2" y2="93" stroke="#777" stroke-width="1"/>
<rect x="86.6" y="20.2" width="37.8" height="63.1" rx="6" ry="6" fill="#fff" stroke="#777" stroke-width="1.1"/>
<line x1="86.6" y1="58.5" x2="86.6" y2="73.5" stroke="#fff" stroke-width="1.6"/>
<line x1="103.1" y1="21.6" x2="103.1" y2="63.5" stroke="#4a4a4a" stroke-width="1.4" stroke-dasharray="1.5,2.3"/>
<polyline points="92.6,80.5 97.6,34.1 102.4,34.1 108.3,21.9 113.3,43" fill="none" stroke="#7b57f3" stroke-width="1"/>
<polyline points="97.3,39 97.7,36.8 102.4,39 107.9,23.2 113.6,53.2" fill="none" stroke="#f6a66a" stroke-width="1"/>
<text x="102.6" y="71.8" class="n44" text-anchor="middle">44</text>
<text x="0" y="0" class="ax" text-anchor="middle" textLength="40.5" lengthAdjust="spacingAndGlyphs" transform="translate(12.4 110.4) rotate(-90)">RMSF (Å)</text>
<text x="142" y="221.7" class="ax" text-anchor="middle" textLength="62.2" lengthAdjust="spacingAndGlyphs">Residue number</text>
<text x="133.5" y="243" class="pl" text-anchor="middle">(c)</text>


<text x="511" y="32.3" class="ttl" text-anchor="middle">313 K</text>
<line x1="475.1" y1="48.8" x2="495" y2="48.8" stroke="#fbc6a6" stroke-width="1.1"/>
<text x="498.4" y="51.9" class="lg">N44G</text>
<line x1="475.1" y1="60.3" x2="495" y2="60.3" stroke="#ae9ef8" stroke-width="1.1"/>
<text x="498.4" y="63.2" class="lg">8BxHMFO</text>
<text x="334" y="65.3" class="an" text-anchor="middle">42 – 46</text>
<line x1="328.4" y1="67" x2="332.2" y2="76" stroke="#000" stroke-width="1.35"/>
<polygon points="334,80.2 330.2,77.2 334.1,75.3" fill="#000"/>
<line x1="373.8" y1="41.3" x2="334.6" y2="80.2" stroke="#777" stroke-width="1"/>
<line x1="373.8" y1="58.5" x2="334.6" y2="80.2" stroke="#777" stroke-width="1"/>
<rect x="373.8" y="4.2" width="34.9" height="64" rx="6" ry="6" fill="#fff" stroke="#777" stroke-width="1.1"/>
<line x1="373.8" y1="41.8" x2="373.8" y2="58" stroke="#fff" stroke-width="1.6"/>
<line x1="387.4" y1="19" x2="387.4" y2="52" stroke="#4a4a4a" stroke-width="1.4" stroke-dasharray="1.5,2.3"/>
<polyline points="376.1,66.5 381.7,13 387.1,17.1 392.3,8.9 397.6,39.5" fill="none" stroke="#7b57f3" stroke-width="1"/>
<polyline points="377.5,56.5 382,15.6 387.4,22.5 392.3,11.7 397.8,52.2" fill="none" stroke="#f6a66a" stroke-width="1"/>
<text x="387.2" y="62.8" class="n44" text-anchor="middle">44</text>
<text x="0" y="0" class="ax" text-anchor="middle" textLength="40.5" lengthAdjust="spacingAndGlyphs" transform="translate(292.4 109.5) rotate(-90)">RMSF (Å)</text>
<text x="424.3" y="222.7" class="ax" text-anchor="middle" textLength="62.6" lengthAdjust="spacingAndGlyphs">Residue number</text>
<text x="417.2" y="243" class="pl" text-anchor="middle">(d)</text>

</svg>
</body></html>
